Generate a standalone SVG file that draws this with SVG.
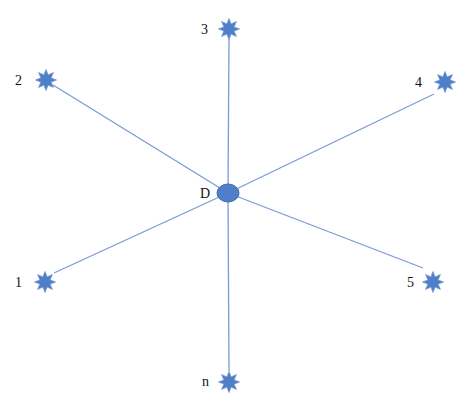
<svg xmlns="http://www.w3.org/2000/svg" width="474" height="411" viewBox="0 0 474 411">
<style>
.lbl{font-family:"Liberation Serif",serif;font-size:14px;fill:#111}
.star{fill:#4f7fc8;stroke:#6f95d2;stroke-width:0.8}
.con{stroke:#7a9cd4;stroke-width:1.3;fill:none}
</style>
<defs>
<polygon id="st" points="0,-10.5 2.1,-5.1 7.4,-7.4 5.1,-2.1 10.5,0 5.1,2.1 7.4,7.4 2.1,5.1 0,10.5 -2.1,5.1 -7.4,7.4 -5.1,2.1 -10.5,0 -5.1,-2.1 -7.4,-7.4 -2.1,-5.1"/>
</defs>
<rect width="474" height="411" fill="#fff"/>
<g id="connectors">
<line class="con" x1="228" y1="193" x2="229" y2="39"/>
<line class="con" x1="228" y1="193" x2="53" y2="85"/>
<line class="con" x1="228" y1="193" x2="434" y2="94"/>
<line class="con" x1="228" y1="193" x2="54" y2="273"/>
<line class="con" x1="228" y1="193" x2="423" y2="268"/>
<line class="con" x1="228" y1="193" x2="229" y2="371"/>
</g>
<g id="nodeD"><ellipse cx="228" cy="193" rx="11" ry="9" fill="#4f7fc8" stroke="#3e6db5" stroke-width="1"/><text class="lbl" x="200" y="198">D</text></g>
<g id="node3"><use href="#st" class="star" x="229" y="29"/><text class="lbl" x="201" y="34">3</text></g>
<g id="node2"><use href="#st" class="star" x="46" y="80"/><text class="lbl" x="15" y="85">2</text></g>
<g id="node4"><use href="#st" class="star" x="445" y="82"/><text class="lbl" x="415" y="87">4</text></g>
<g id="node1"><use href="#st" class="star" x="45" y="282"/><text class="lbl" x="15" y="287">1</text></g>
<g id="node5"><use href="#st" class="star" x="433" y="282"/><text class="lbl" x="407" y="287">5</text></g>
<g id="noden"><use href="#st" class="star" x="229" y="382"/><text class="lbl" x="202" y="386">n</text></g>
</svg>
